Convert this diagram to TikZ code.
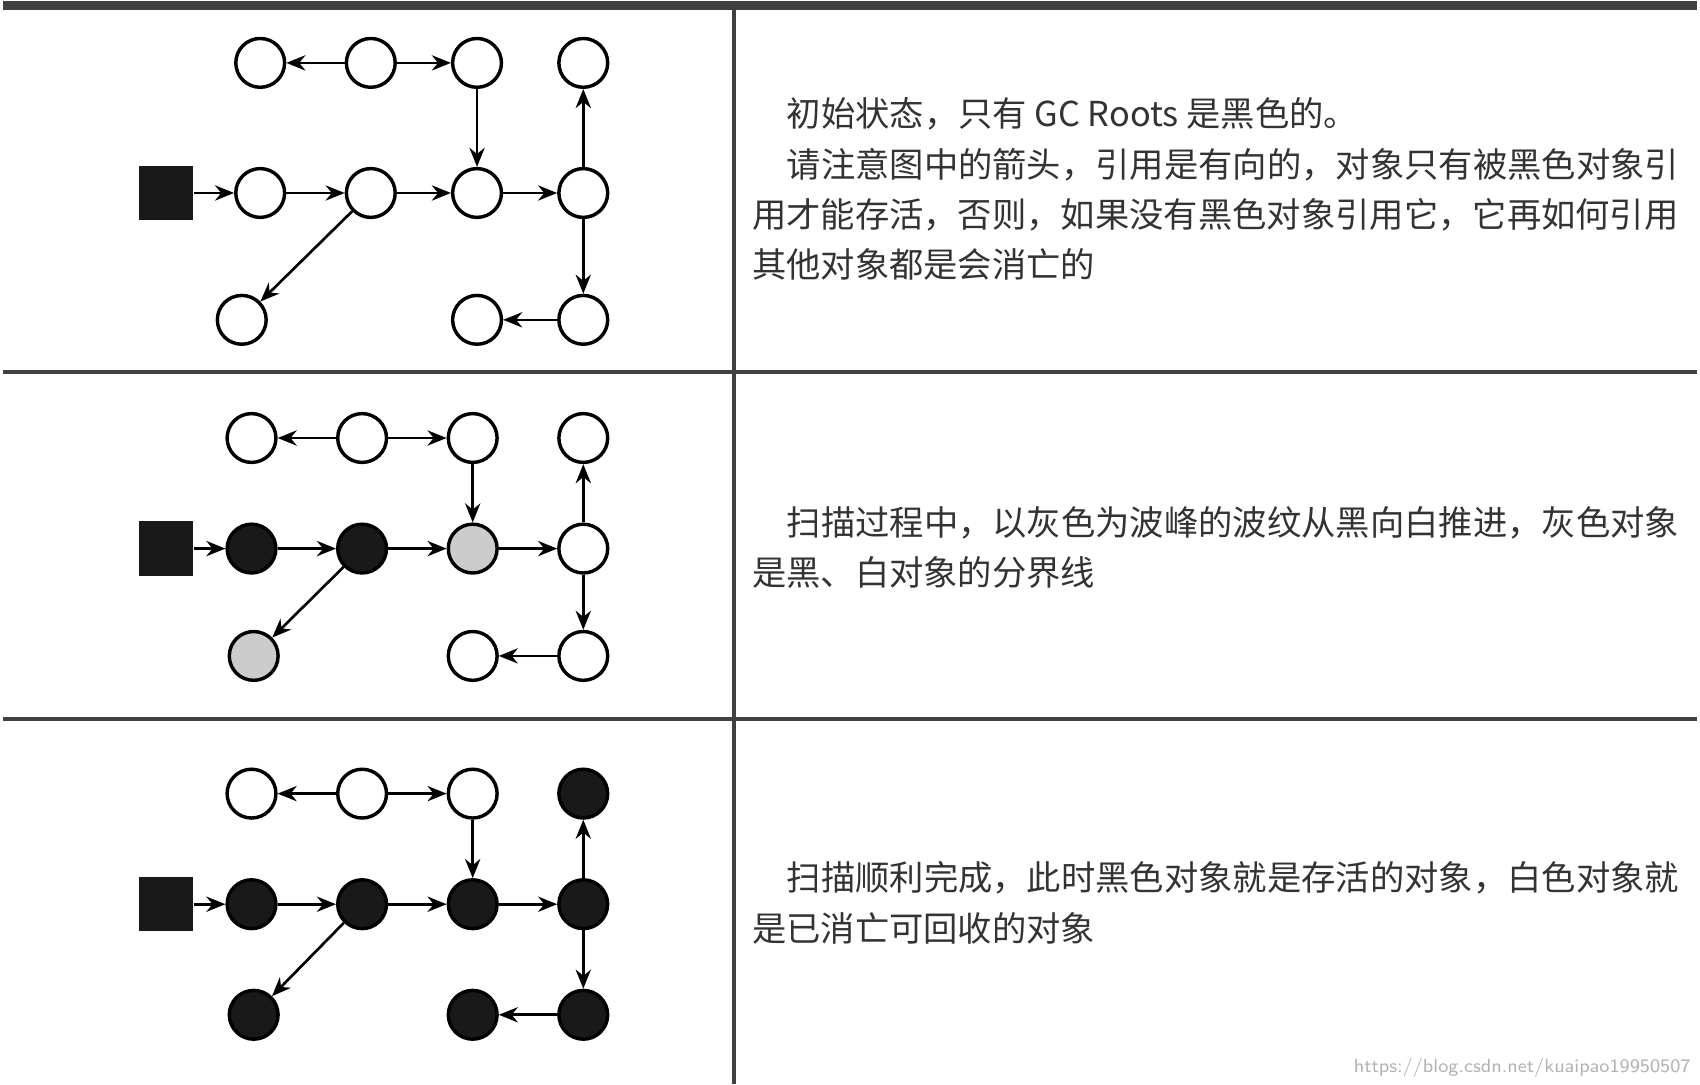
\documentclass[tikz,border=0pt]{standalone}
\usepackage{fontspec}
\newfontfamily\cjk{Noto Sans CJK SC}
\usetikzlibrary{arrows.meta}
\begin{document}
\begin{tikzpicture}[x=0.01cm,y=-0.01cm,
  obj/.style={circle,draw,line width=0.9pt,minimum size=0.45cm,inner sep=0pt,fill=white},
  blk/.style={obj,fill=black!90},
  gry/.style={obj,fill=black!20},
  root/.style={rectangle,fill=black!90,minimum size=0.5cm,inner sep=0pt},
  ref/.style={-{Stealth[length=5pt,width=4pt]},line width=0.7pt},
  rule/.style={line width=1.1pt,black!75},
  txt/.style={anchor=west,inner sep=0pt,font=\cjk\fontsize{9pt}{10pt}\selectfont,text=black!80}]
\useasboundingbox (0,0) rectangle (1568,1000);
\draw[rule,line width=2.2pt] (3,5) -- (1565,5);
\draw[rule] (3,343) -- (1565,343);
\draw[rule] (3,663) -- (1565,663);
\draw[rule] (677,5) -- (677,1000);
\foreach \p/\yt/\ym/\yb/\xa/\xb/\xc/\ba/\sA/\sB/\sC/\sD/\sE/\sF/\sG/\sH/\sI/\sJ/\sK in
 {1/58/178/295/240/342/440/223/obj/obj/obj/obj/obj/obj/obj/obj/obj/obj/obj,
  2/404/506/605/232/334/436/234/obj/obj/obj/obj/blk/blk/gry/obj/gry/obj/obj,
  3/732/834/936/232/334/436/234/obj/obj/obj/blk/blk/blk/blk/blk/blk/blk/blk}{
  \node[root] (r\p) at (153,\ym) {};
  \node[\sA] (t1\p) at (\xa,\yt) {};
  \node[\sB] (t2\p) at (\xb,\yt) {};
  \node[\sC] (t3\p) at (\xc,\yt) {};
  \node[\sD] (t4\p) at (538,\yt) {};
  \node[\sE] (m1\p) at (\xa,\ym) {};
  \node[\sF] (m2\p) at (\xb,\ym) {};
  \node[\sG] (m3\p) at (\xc,\ym) {};
  \node[\sH] (m4\p) at (538,\ym) {};
  \node[\sI] (b1\p) at (\ba,\yb) {};
  \node[\sJ] (b2\p) at (\xc,\yb) {};
  \node[\sK] (b3\p) at (538,\yb) {};
  \draw[ref] (t2\p) -- (t1\p);
  \draw[ref] (t2\p) -- (t3\p);
  \draw[ref] (t3\p) -- (m3\p);
  \draw[ref] (m4\p) -- (t4\p);
  \draw[ref] (r\p) -- (m1\p);
  \draw[ref] (m1\p) -- (m2\p);
  \draw[ref] (m2\p) -- (m3\p);
  \draw[ref] (m3\p) -- (m4\p);
  \draw[ref] (m2\p) -- (b1\p);
  \draw[ref] (m4\p) -- (b3\p);
  \draw[ref] (b3\p) -- (b2\p);
}
\node[txt] (l1) at (725,105) {初始状态，只有 GC Roots 是黑色的。};
\node[txt] (l2) at (725,152) {请注意图中的箭头，引用是有向的，对象只有被黑色对象引};
\node[txt] (l3) at (693,198) {用才能存活，否则，如果没有黑色对象引用它，它再如何引用};
\node[txt] (l4) at (693,244) {其他对象都是会消亡的};
\node[txt] (l5) at (725,482) {扫描过程中，以灰色为波峰的波纹从黑向白推进，灰色对象};
\node[txt] (l6) at (693,528) {是黑、白对象的分界线};
\node[txt] (l7) at (725,810) {扫描顺利完成，此时黑色对象就是存活的对象，白色对象就};
\node[txt] (l8) at (693,856) {是已消亡可回收的对象};
\node[anchor=east,inner sep=0pt,font=\sffamily\fontsize{5pt}{6pt}\selectfont,text=black!30] (wm) at (1560,985) {https://blog.csdn.net/kuaipao19950507};
\end{tikzpicture}
\end{document}
